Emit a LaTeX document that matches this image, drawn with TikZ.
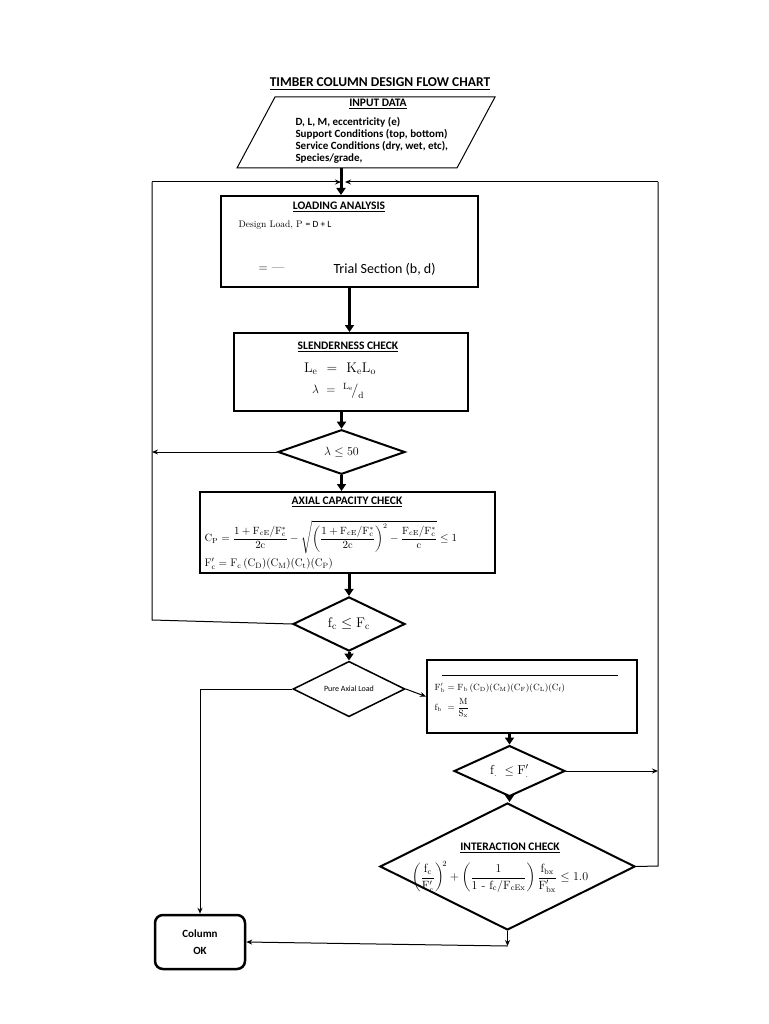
\documentclass[tikz,border=0pt]{standalone}
\usepackage{fontspec}
\usepackage{amsmath}
\newfontfamily\carl{Carlito}
\usetikzlibrary{shapes.geometric,arrows.meta}
\begin{document}
\begin{tikzpicture}[x=1pt,y=-1pt,
 box/.style={draw,line width=2pt,inner sep=0pt},
 dia/.style={draw,diamond,line width=2pt,inner sep=0pt},
 big/.style={line width=3pt,-{Triangle[length=7pt,width=9pt]}},
 thin/.style={line width=1pt,-{Stealth[length=6pt,width=5pt]}},
 ln/.style={line width=1pt},
 hd/.style={font=\carl\bfseries\fontsize{11.5}{12}\selectfont}]
\useasboundingbox (0,0) rectangle (768,1024);
\node[font=\carl\bfseries\fontsize{13.5}{15}\selectfont] (title) at (380,84) {\underline{TIMBER COLUMN DESIGN FLOW CHART}};
% input parallelogram
\draw[line width=1pt] (275,97) -- (495,97) -- (457,168) -- (237,168) -- cycle;
\node[hd] (inhd) at (378,104) {\underline{INPUT DATA}};
\node[font=\carl\bfseries\fontsize{11}{12}\selectfont,align=left,anchor=north west] (input) at (292,114) {D, L, M, eccentricity (e)\\Support Conditions (top, bottom)\\Service Conditions (dry, wet, etc),\\Species/grade,};
\coordinate (inb) at (341,168);
% loading
\node[box,minimum width=257pt,minimum height=91pt] (load) at (349.5,241.5) {};
\node[hd] at (339,207) {\underline{LOADING ANALYSIS}};
\node[anchor=west,font=\fontsize{9.5}{11}\selectfont] at (235,225) {Design Load, P {\carl = D + L}};
\node[anchor=west,font=\fontsize{13}{14}\selectfont] at (255,269) {$=$ ---};
\node[anchor=west,font=\carl\fontsize{14}{15}\selectfont] at (330,269) {Trial Section (b, d)};
% slenderness
\node[box,minimum width=234pt,minimum height=78pt] (slen) at (351,372) {};
\node[hd] at (348,347) {\underline{SLENDERNESS CHECK}};
\node[font=\fontsize{14}{15}\selectfont] at (340,369) {L$_{\text{e}}$ \ = \ K$_{\text{e}}$L$_{\text{o}}$};
\node[font=\fontsize{13}{14}\selectfont] at (338,391) {$\lambda\ =\ {}^{\mathrm{L}_{\mathrm{e}}}\!\big/_{\mathrm{d}}$};
% lambda diamond
\node[dia,minimum width=127pt,minimum height=40pt] (lam) at (341.5,452) {\fontsize{12.5}{13}\selectfont$\lambda\le 50$};
% axial
\node[box,minimum width=295pt,minimum height=81pt] (axial) at (347.5,532.5) {};
\node[hd] at (347,502) {\underline{AXIAL CAPACITY CHECK}};
\node[anchor=west,font=\fontsize{10.5}{11}\selectfont] at (201,537) {$\mathrm{C_P}=\dfrac{1+\mathrm{F_{cE}}/\mathrm{F_c^*}}{2\mathrm{c}}-\sqrt{\left(\dfrac{1+\mathrm{F_{cE}}/\mathrm{F_c^*}}{2\mathrm{c}}\right)^{2}-\dfrac{\mathrm{F_{cE}}/\mathrm{F_c^*}}{\mathrm{c}}}\le 1$};
\node[anchor=west,font=\fontsize{11}{12}\selectfont] at (201,564) {$\mathrm{F_c'}=\mathrm{F_c}\,(\mathrm{C_D})(\mathrm{C_M})(\mathrm{C_t})(\mathrm{C_P})$};
% fc diamond
\node[dia,minimum width=112pt,minimum height=52pt] (fc) at (349,624) {\fontsize{14}{15}\selectfont$\mathrm{f_c}\le\mathrm{F_c}$};
% pure axial
\node[dia,line width=1.5pt,minimum width=112pt,minimum height=50pt] (pure) at (349,689) {\carl\fontsize{8}{9}\selectfont Pure Axial Load};
% right box
\node[box,minimum width=210pt,minimum height=73pt] (bend) at (532,696.5) {};
\draw[line width=0.6pt] (442,675) -- (618,675);
\node[anchor=west,font=\fontsize{9}{10}\selectfont] at (431,688) {$\mathrm{F_b'}=\mathrm{F_b}\,(\mathrm{C_D})(\mathrm{C_M})(\mathrm{C_F})(\mathrm{C_L})(\mathrm{C_f})$};
\node[anchor=west,font=\fontsize{9}{10}\selectfont] at (431,708) {$\mathrm{f_b}\ =\dfrac{\mathrm{M}}{\mathrm{S_x}}$};
% f<=F'
\node[dia,minimum width=111pt,minimum height=48pt] (fb) at (509.5,771) {\fontsize{13}{14}\selectfont$\mathrm{f_.}\ \le\mathrm{F'_.}$};
% interaction
\node[dia,minimum width=255pt,minimum height=127pt] (inter) at (507.5,866.5) {};
\node[hd] at (510,848) {\underline{INTERACTION CHECK}};
\node[font=\fontsize{12}{13}\selectfont] at (500,877) {$\left(\dfrac{\mathrm{f_c}}{\mathrm{F_c'}}\right)^{\!2}+\left(\dfrac{1}{1\text{ - }\mathrm{f_c}/\mathrm{F_{cEx}}}\right)\dfrac{\mathrm{f_{bx}}}{\mathrm{F_{bx}'}}\le 1.0$};
% column ok
\node[draw,line width=2.5pt,rounded corners=8pt,minimum width=90pt,minimum height=54pt,align=center,font=\carl\bfseries\fontsize{11}{17}\selectfont] (ok) at (200,942) {Column\\OK};
% coordinates
\coordinate (tl) at (152,182); \coordinate (tr) at (658,182);
\coordinate (lm) at (341,182); \coordinate (rm) at (345,182);
\coordinate (l1) at (152,452); \coordinate (l2) at (152,620);
\coordinate (r1) at (658,771); \coordinate (r2) at (658,866);
\coordinate (pl) at (200,689);
\coordinate (ib) at (507.5,946);
% main flow
\draw[big] (inb) -- (inb |- load.north);
\draw[big] (load.south) -- (load.south |- slen.north);
\draw[big] (slen.south -| lam.north) -- (lam.north);
\draw[big] (lam.south) -- (lam.south |- axial.north);
\draw[big] (axial.south -| fc.north) -- (fc.north);
\draw[big] (fc.south) -- (pure.north);
\draw[big] (bend.south -| fb.north) -- (fb.north);
\draw[big] (fb.south) -- (fb.south |- inter.north);
% loops
\draw[thin] (lam.west) -- (l1);
\draw[ln] (fc.west) -- (l2) -- (tl);
\draw[thin] (tl) -- (lm);
\draw[thin] (fb.east) -- (r1);
\draw[ln] (inter.east) -- (r2) -- (tr);
\draw[thin] (tr) -- (rm);
\draw[thin] (pure.west) -- (pl) -- (ok.north);
\draw[thin] (pure.east) -- (bend.west);
\draw[thin] (inter.south) -- (ib);
\draw[thin] (ib) -- (ok.east);
\end{tikzpicture}
\end{document}
